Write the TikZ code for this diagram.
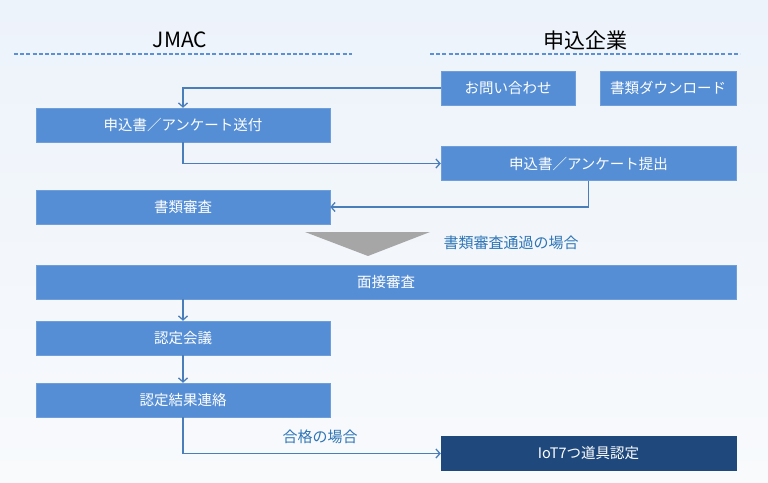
\documentclass[tikz,border=0pt]{standalone}
\usepackage{fontspec}
\newfontfamily\cjk{Noto Sans CJK JP}
\usetikzlibrary{arrows.meta}
\definecolor{boxblue}{HTML}{558ED5}
\definecolor{navy}{HTML}{1F497D}
\definecolor{linec}{HTML}{4A7EBB}
\definecolor{labc}{HTML}{2E75B6}
\definecolor{dashc}{HTML}{5B8FD6}
\definecolor{bgtop}{HTML}{EDF3FB}
\definecolor{bgbot}{HTML}{F8FAFC}
\tikzset{
  box/.style={fill=boxblue, draw=boxblue!85!white, text=white, minimum height=34pt, inner sep=0pt, font=\cjk\fontsize{14.5}{16}\selectfont},
  darkbox/.style={box, fill=navy, draw=navy},
  conn/.style={draw=linec, line width=1.5pt, -{Straight Barb[length=4pt,width=9pt,line width=1.3pt]}},
  head/.style={font=\cjk\fontsize{21}{24}\selectfont, text=black},
  lab/.style={font=\cjk\fontsize{15}{17}\selectfont, text=labc},
  dashline/.style={draw=dashc, line width=2pt, dash pattern=on 4pt off 2.2pt}
}
\begin{document}
\begin{tikzpicture}[x=1pt,y=-1pt]
\shade[top color=bgtop, bottom color=bgbot] (0,0) rectangle (768,482);
\useasboundingbox (0,0) rectangle (768,482);
% headings
\node[head] (hj) at (180,40) {JMAC};
\node[head] (hc) at (585,40) {申込企業};
\draw[dashline] (14,54) -- (352,54);
\draw[dashline] (430,54) -- (740,54);
% boxes
\node[box, minimum width=134pt] (inq) at (508,88) {お問い合わせ};
\node[box, minimum width=136pt] (dl) at (668,88) {書類ダウンロード};
\node[box, minimum width=294pt] (send) at (183,125) {申込書／アンケート送付};
\node[box, minimum width=295pt] (submit) at (588.5,163.5) {申込書／アンケート提出};
\node[box, minimum width=294pt] (review) at (183,207) {書類審査};
\node[box, minimum width=700pt] (interview) at (386,282) {面接審査};
\node[box, minimum width=294pt] (meeting) at (183,338) {認定会議};
\node[box, minimum width=294pt] (result) at (183,400) {認定結果連絡};
\node[darkbox, minimum width=295pt] (iot) at (588.5,453.5) {IoT7つ道具認定};
% triangle
\fill[black!35] (305,232) -- (430,232) -- (368,256) -- cycle;
\node[lab, anchor=west] (pass1) at (440,243) {書類審査通過の場合};
\node[lab] (pass2) at (320,437) {合格の場合};
% connectors
\draw[conn] (inq.west) -| (send.north);
\draw[conn] (send.south) |- (submit.west);
\draw[conn] (submit.south) |- (review.east);
\draw[conn] (interview.south -| meeting.north) -- (meeting.north);
\draw[conn] (meeting.south) -- (result.north);
\draw[conn] (result.south) |- (iot.west);
\end{tikzpicture}
\end{document}
